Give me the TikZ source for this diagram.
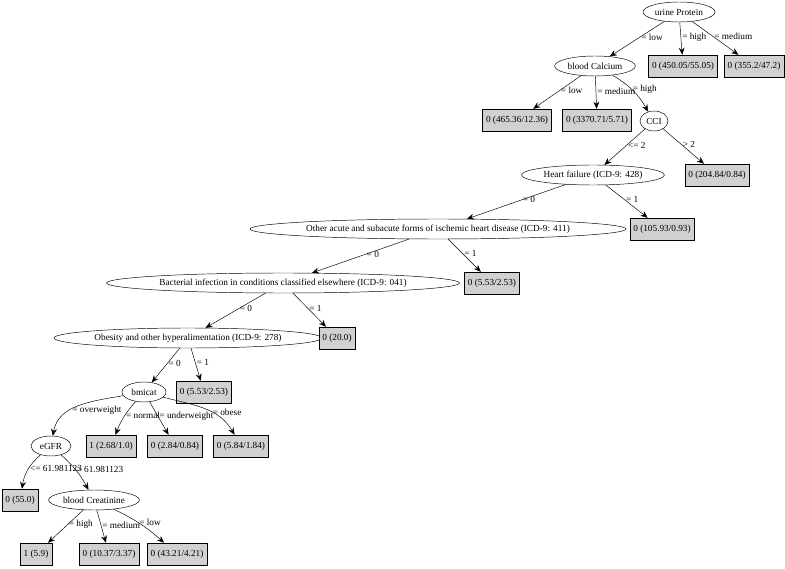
\documentclass[tikz,border=0pt]{standalone}
\usepackage{fontspec}
\setmainfont{Liberation Serif}
\usetikzlibrary{arrows.meta,shapes.geometric}
\begin{document}
\begin{tikzpicture}[x=0.03cm,y=-0.03cm,font=\fontsize{7.9}{9}\selectfont,
 inner node/.style={draw,ellipse,minimum height=20*0.03cm,inner sep=1pt},
 leaf/.style={draw,fill=black!18,minimum height=22*0.03cm,inner sep=3pt},
 e/.style={-{Stealth[length=6pt,width=5pt]},black},
 lb/.style={right,inner sep=1pt,pos=0.45}]
\useasboundingbox (0,0) rectangle (785,569);
\node[inner node,minimum width=72*0.03cm] (up) at (679,12) {urine Protein};
\node[inner node,minimum width=80*0.03cm] (bc) at (595,66) {blood Calcium};
\node[leaf] (l1) at (683,66) {0 (450.05/55.05)};
\node[leaf] (l2) at (754,66) {0 (355.2/47.2)};
\node[leaf] (l3) at (517,120) {0 (465.36/12.36)};
\node[leaf] (l4) at (597,120) {0 (3370.71/5.71)};
\node[inner node,minimum width=28*0.03cm] (cci) at (654,121) {CCI};
\node[inner node,minimum width=124*0.03cm] (hf) at (593,175) {Heart failure (ICD-9: 428)};
\node[leaf] (l5) at (717,175) {0 (204.84/0.84)};
\node[inner node,minimum width=348*0.03cm] (oa) at (438,229) {Other acute and subacute forms of ischemic heart disease (ICD-9: 411)};
\node[leaf] (l6) at (662,229) {0 (105.93/0.93)};
\node[inner node,minimum width=276*0.03cm] (bi) at (283,283) {Bacterial infection in conditions classified elsewhere (ICD-9: 041)};
\node[leaf] (l7) at (492,283) {0 (5.53/2.53)};
\node[inner node,minimum width=236*0.03cm] (ob) at (188,338) {Obesity and other hyperalimentation (ICD-9: 278)};
\node[leaf] (l8) at (337,338) {0 (20.0)};
\node[inner node,minimum width=44*0.03cm] (bm) at (144,392) {bmicat};
\node[leaf] (l9) at (204,392) {0 (5.53/2.53)};
\node[inner node,minimum width=40*0.03cm] (eg) at (51,446) {eGFR};
\node[leaf] (l10) at (111,446) {1 (2.68/1.0)};
\node[leaf] (l11) at (175,446) {0 (2.84/0.84)};
\node[leaf] (l12) at (241,446) {0 (5.84/1.84)};
\node[leaf] (l13) at (20,500) {0 (55.0)};
\node[inner node,minimum width=88*0.03cm] (cr) at (94,500) {blood Creatinine};
\node[leaf] (l14) at (36,554) {1 (5.9)};
\node[leaf] (l15) at (109,554) {0 (10.37/3.37)};
\node[leaf] (l16) at (177,554) {0 (43.21/4.21)};
\draw[e] (up) -- node[lb]{= low} (bc);
\draw[e] (up) -- node[lb]{= high} (l1);
\draw[e] (up) -- node[lb]{= medium} (l2);
\draw[e] (bc) -- node[lb]{= low} (l3);
\draw[e] (bc) -- node[lb]{= medium} (l4);
\draw[e] (bc) to[bend left=15] node[lb]{= high} (cci);
\draw[e] (cci) -- node[lb]{<= 2} (hf);
\draw[e] (cci) -- node[lb]{> 2} (l5);
\draw[e] (hf) -- node[lb]{= 0} (oa);
\draw[e] (hf) -- node[lb]{= 1} (l6);
\draw[e] (oa) -- node[lb]{= 0} (bi);
\draw[e] (oa) -- node[lb]{= 1} (l7);
\draw[e] (bi) -- node[lb]{= 0} (ob);
\draw[e] (bi) -- node[lb]{= 1} (l8);
\draw[e] (ob) -- node[lb]{= 0} (bm);
\draw[e] (ob) -- node[lb]{= 1} (l9);
\draw[e] (bm) to[out=190,in=80] node[lb,pos=0.6]{= overweight} (eg);
\draw[e] (bm) to[bend right=10] node[lb]{= normal} (l10);
\draw[e] (bm) -- node[lb]{= underweight} (l11);
\draw[e] (bm) to[out=-15,in=120] node[lb,pos=0.6]{= obese} (l12);
\draw[e] (eg) to[bend right=20] node[lb]{<= 61.981123} (l13);
\draw[e] (eg) to[bend left=10] node[lb]{> 61.981123} (cr);
\draw[e] (cr) -- node[lb]{= high} (l14);
\draw[e] (cr) -- node[lb]{= medium} (l15);
\draw[e] (cr) to[bend left=8] node[lb]{= low} (l16);
\end{tikzpicture}
\end{document}
